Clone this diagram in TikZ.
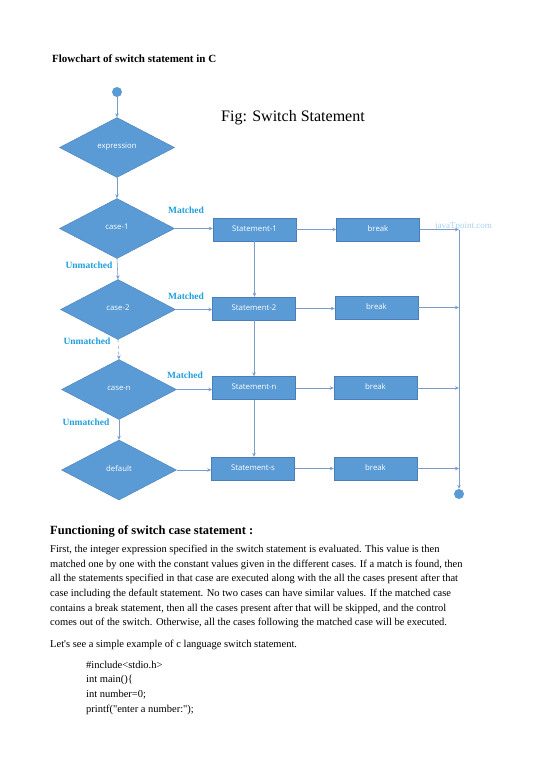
\documentclass[tikz,border=0pt]{standalone}
\usepackage{fontspec}
\setmainfont{Liberation Serif}[Ligatures=TeXOff]
\newfontfamily\diagfont{Open Sans}
\usetikzlibrary{shapes.geometric,arrows.meta}
\definecolor{boxblue}{HTML}{5B9BD5}
\definecolor{boxedge}{HTML}{4A7EBB}
\definecolor{linecol}{HTML}{7A9CCB}
\definecolor{labcol}{HTML}{22A0DC}
\definecolor{wmcol}{HTML}{A8D2EE}
\begin{document}
\begin{tikzpicture}[x=1pt,y=-1pt,
  decision/.style={diamond, fill=boxblue, draw=boxedge, line width=0.4pt,
    minimum width=115pt, minimum height=60pt, inner sep=0pt, text=white,
    font=\diagfont\fontsize{7.8}{9}\selectfont},
  stmtbox/.style={rectangle, fill=boxblue, draw=boxedge, line width=0.4pt,
    minimum width=83pt, minimum height=23pt, inner sep=0pt, text=white,
    font=\diagfont\fontsize{7.8}{9}\selectfont},
  flow/.style={draw=linecol, line width=0.6pt, -{Stealth[length=4pt,width=3.5pt]}},
  lab/.style={text=labcol, font=\bfseries\fontsize{9.5}{10}\selectfont, inner sep=0pt},
  dot/.style={circle, fill=boxblue, minimum size=10pt, inner sep=0pt},
  txt/.style={anchor=west, inner sep=0pt, font=\fontsize{10.5}{12}\selectfont}
]
\fill[white] (0,0) rectangle (550,777);
\useasboundingbox (0,0) rectangle (550,777);

% titles
\node[txt, font=\bfseries\fontsize{11}{13}\selectfont] (title) at (52,59) {Flowchart of switch statement in C};
\node[txt, font=\fontsize{16}{18}\selectfont] (fig) at (221,118) {Fig: Switch Statement};
\node[txt, text=wmcol, font=\fontsize{9}{10}\selectfont] (wm) at (435,226) {javaTpoint.com};

% decision column
\node[dot] (start) at (117,92) {};
\node[decision] (expr) at (117,147.5) {\raisebox{3pt}{expression}};
\node[decision] (c1) at (117,228.5) {\raisebox{3pt}{case-1}};
\node[decision] (c2) at (118,309.5) {\raisebox{3pt}{case-2}};
\node[decision] (cn) at (119,389.5) {\raisebox{3pt}{case-n}};
\node[decision] (def) at (119,470) {\raisebox{3pt}{default}};

% statements
\node[stmtbox] (s1) at (254.5,229.5) {\raisebox{2pt}{Statement-1}};
\node[stmtbox] (s2) at (254,308.5) {\raisebox{2pt}{Statement-2}};
\node[stmtbox] (sn) at (254,388) {\raisebox{2pt}{Statement-n}};
\node[stmtbox] (ss) at (253,468.5) {\raisebox{2pt}{Statement-s}};

% breaks
\node[stmtbox] (b1) at (378,229.5) {\raisebox{2pt}{break}};
\node[stmtbox] (b2) at (376.5,307.5) {\raisebox{2pt}{break}};
\node[stmtbox] (bn) at (375.5,388) {\raisebox{2pt}{break}};
\node[stmtbox] (bs) at (375.5,468.5) {\raisebox{2pt}{break}};

% end
\node[dot] (stop) at (459,494) {};
\coordinate (rail) at (459,229.5);

% labels
\node[lab] (m1) at (186,210) {Matched};
\node[lab] (m2) at (186,296) {Matched};
\node[lab] (m3) at (185,375) {Matched};
\node[lab] (u1) at (89,265) {Unmatched};
\node[lab] (u2) at (87,341) {Unmatched};
\node[lab] (u3) at (86,422) {Unmatched};

% connectors
\draw[flow] (start) -- (expr.north);
\draw[flow] (expr.south) -- (c1.north);
\draw[flow] (c1.south) -- (c2.north);
\draw[flow, dashed] (c2.south) -- (cn.north);
\draw[flow] (cn.south) -- (def.north);

\draw[flow] (c1.east) -- (c1.east -| s1.west);
\draw[flow] (c2.east) -- (c2.east -| s2.west);
\draw[flow] (cn.east) -- (cn.east -| sn.west);
\draw[flow] (def.east) -- (def.east -| ss.west);

\draw[flow] (s1.east) -- (b1.west);
\draw[flow] (s2.east) -- (s2.east -| b2.west);
\draw[flow] (sn.east) -- (bn.west);
\draw[flow] (ss.east) -- (bs.west);

\draw[flow] (s1.south) -- (s1.south |- s2.north);
\draw[flow] (s2.south) -- (s2.south |- sn.north);
\draw[flow] (sn.south) -- (sn.south |- ss.north);

\draw[flow] (b1.east) -- (b1.east -| rail);
\draw[flow] (b2.east) -- (b2.east -| rail);
\draw[flow] (bn.east) -- (bn.east -| rail);
\draw[flow] (bs.east) -- (bs.east -| rail);
\draw[flow] (rail) -- (stop.north);

% text section
\node[txt, font=\bfseries\fontsize{12.5}{14}\selectfont] (head) at (50,531) {Functioning of switch case statement :};
\node[txt] (p1) at (50,550) {First, the integer expression specified in the switch statement is evaluated. This value is then};
\node[txt] (p2) at (50,564.5) {matched one by one with the constant values given in the different cases. If a match is found, then};
\node[txt] (p3) at (50,579) {all the statements specified in that case are executed along with the all the cases present after that};
\node[txt] (p4) at (50,594) {case including the default statement. No two cases can have similar values. If the matched case};
\node[txt] (p5) at (50,608.5) {contains a break statement, then all the cases present after that will be skipped, and the control};
\node[txt] (p6) at (50,623) {comes out of the switch. Otherwise, all the cases following the matched case will be executed.};
\node[txt] (p7) at (50,645) {Let's see a simple example of c language switch statement.};
\node[txt] (k1) at (86,665) {\#include<stdio.h>};
\node[txt] (k2) at (86,680) {int main()\{};
\node[txt] (k3) at (86,694.5) {int number=0;};
\node[txt] (k4) at (86,709.5) {printf("enter a number:");};
\end{tikzpicture}
\end{document}
